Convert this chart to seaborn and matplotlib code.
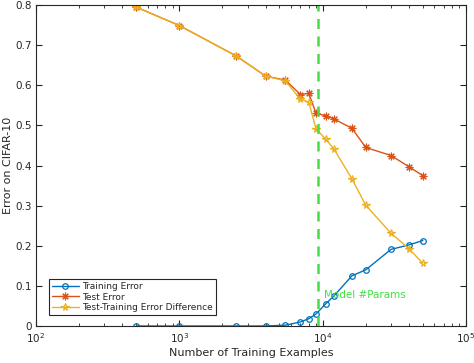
import matplotlib
matplotlib.use("Agg")
import matplotlib.pyplot as plt
import seaborn as sns
import pandas as pd

# Training set sizes and errors
train_sizes = [500, 1000, 2500, 4000, 5500, 7000, 8000, 9000, 10500, 12000, 16000, 20000, 30000, 40000, 50000]
training_error = [0.0, 0.0, 0.0, 0.0, 0.002, 0.01, 0.018, 0.03, 0.055, 0.075, 0.125, 0.14, 0.191, 0.202, 0.213]
test_error = [0.795, 0.749, 0.673, 0.623, 0.613, 0.577, 0.580, 0.530, 0.524, 0.516, 0.493, 0.445, 0.425, 0.397, 0.375]
difference = [0.795, 0.749, 0.673, 0.623, 0.611, 0.565, 0.558, 0.491, 0.466, 0.441, 0.367, 0.301, 0.231, 0.193, 0.156]
model_params = 9300

df = pd.DataFrame({
    "n": train_sizes,
    "train": training_error,
    "test": test_error,
    "diff": difference,
})

sns.set_style("ticks")
plt.rcParams["font.family"] = ["DejaVu Sans"]

fig = plt.figure(figsize=(4.74, 3.63), dpi=100)
ax = fig.add_axes([0.076, 0.102, 0.907, 0.884])

# MATLAB default colour order
blue = "#0072BD"
red = "#D95319"
yellow = "#EDB120"

sns.lineplot(data=df, x="n", y="train", ax=ax, color=blue, lw=1, marker="o",
             markersize=4, markerfacecolor="none", markeredgecolor=blue,
             markeredgewidth=0.9, label="Training Error")
sns.lineplot(data=df, x="n", y="test", ax=ax, color=red, lw=1, marker=(8, 2, 0),
             markersize=5.5, markeredgecolor=red, markeredgewidth=0.8, label="Test Error")
sns.lineplot(data=df, x="n", y="diff", ax=ax, color=yellow, lw=1, marker="*",
             markersize=5.5, markerfacecolor="none", markeredgecolor=yellow,
             markeredgewidth=0.9, label="Test-Training Error Difference")

# Model parameter count marker
ax.axvline(model_params, color="#44dd44", lw=1.8, ls=(0, (4, 3)))
ax.text(model_params * 1.1, 0.077, "Model #Params", color="#44dd44", fontsize=7.5, va="center")

ax.set_xscale("log")
ax.set_xlim(100, 1e5)
ax.set_ylim(0, 0.8)
ax.set_yticks([0, 0.1, 0.2, 0.3, 0.4, 0.5, 0.6, 0.7, 0.8])
ax.set_yticklabels(["0", "0.1", "0.2", "0.3", "0.4", "0.5", "0.6", "0.7", "0.8"])
ax.set_xlabel("Number of Training Examples", fontsize=8, labelpad=2)
ax.set_ylabel("Error on CIFAR-10", fontsize=8, labelpad=2)
ax.tick_params(which="both", direction="in", top=True, right=True, labelsize=7.5, pad=3)
ax.tick_params(axis="x", which="both", pad=4)
ax.tick_params(which="major", length=4)
ax.tick_params(which="minor", length=2.5)
for s in ax.spines.values():
    s.set_linewidth(0.8)
    s.set_color("#262626")

leg = ax.legend(loc="lower left", bbox_to_anchor=(0.02, 0.02), fontsize=6.5,
                fancybox=False, edgecolor="#262626", framealpha=1,
                handlelength=3.0, borderpad=0.3, labelspacing=0.2, handletextpad=0.4)
leg.get_frame().set_linewidth(0.8)

plt.savefig("out.png", dpi=100)
